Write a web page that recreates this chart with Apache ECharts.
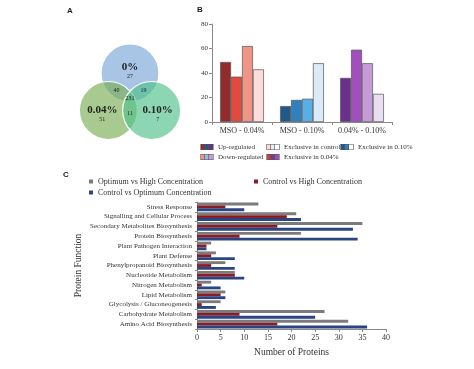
<!DOCTYPE html>
<html><head><meta charset="utf-8">
<script src="https://cdn.jsdelivr.net/npm/echarts@6/dist/echarts.min.js"></script>
<style>html,body{margin:0;padding:0;background:#fff}#c{width:474px;height:369px}</style>
</head><body><div id="c"></div>
<script>
// ---------- Panel A (Venn) ----------
const vennSets = ['0%', '0.04%', '0.10%'];
const vennUnique = [27, 51, 7];          // only 0%, only 0.04%, only 0.10%
const vennPairs = [40, 19, 11];          // 0%&0.04%, 0%&0.10%, 0.04%&0.10%
const vennAll = 231;

// ---------- Panel B ----------
const bCategories = ['MSO - 0.04%', 'MSO - 0.10%', '0.04% - 0.10%'];
const bNames = ['Up-regulated', 'Exclusive in 0.04%', 'Down-regulated', 'Exclusive in control'];
const bBar1 = [49, 13, 36];
const bBar2 = [37, 18, 59];
const bBar3 = [62, 19, 48];
const bBar4 = [43, 48, 23];
const bLegendExtra = 'Exclusive in 0.10%';

// ---------- Panel C ----------
const cCategories = ['Amino Acid Biosynthesis', 'Carbohydrate Metabolism', 'Glycolysis / Gluconeogenesis',
  'Lipid Metabolism', 'Nitrogen Metabolism', 'Nucleotide Metabolism', 'Phenylpropanoid Biosynthesis',
  'Plant Defense', 'Plant Pathogen Interaction', 'Protein Biosynthesis',
  'Secondary Metabolites Biosynthesis', 'Signalling and Cellular Process', 'Stress Response'];
const cOptimumHigh    = [32, 27, 5, 6, 3, 8, 6, 4, 3, 22, 35, 21, 13];
const cControlHigh    = [17, 9, 1, 5, 1, 8, 3, 3, 2, 9, 17, 19, 6];
const cControlOptimum = [36, 25, 4, 6, 5, 10, 8, 8, 2, 34, 33, 22, 10];

// ---------- styles ----------
const serif = '"Liberation Serif","Times New Roman",serif';
const bColors = [ // per bar position, per group
  ['#922b2b', '#1f5a8a', '#6b2f8c'],
  ['#e3493d', '#2e80c0', '#a24fbd'],
  ['#f19488', '#5aaee6', '#c79bd9'],
  ['#fbdcda', '#dbeaf8', '#e9def2']
];
const swatches = {
  'Up-regulated': ['#922b2b', '#1f5a8a', '#6b2f8c'],
  'Down-regulated': ['#f19488', '#8cc0ea', '#c79bd9'],
  'Exclusive in control': ['#fbdcda', '#e6f0fa', '#ffffff'],
  'Exclusive in 0.04%': ['#c9403a', '#7a3d8a', '#a24fbd'],
  'Exclusive in 0.10%': ['#1f5a8a', '#2e80c0', '#ffffff']
};
const rich = { g: { width: 5 } };
const nameKeys = {};
Object.keys(swatches).forEach((n, i) => {
  nameKeys[n] = swatches[n].map((c, j) => {
    const k = 's' + i + '_' + j;
    rich[k] = { width: 4, height: 5, backgroundColor: c, borderColor: '#555', borderWidth: 0.6 };
    return k;
  });
});
const bFormatter = n => nameKeys[n].map(k => '{' + k + '| }').join('') + '{g| }' + n;

const bSeries = [bBar1, bBar2, bBar3, bBar4].map((arr, si) => ({
  type: 'bar', name: bNames[si], xAxisIndex: 0, yAxisIndex: 0,
  barGap: '0%', barCategoryGap: '27%',
  data: arr.map((v, gi) => ({ value: v, itemStyle: { color: bColors[si][gi] } })),
  itemStyle: { borderColor: '#555', borderWidth: 0.7 }
}));
bSeries.push({ type: 'line', name: bLegendExtra, xAxisIndex: 0, yAxisIndex: 0, data: [] });

const cColors = { 'Optimum vs High Concentration': '#7b7b7b', 'Control vs High Concentration': '#8b1c26', 'Control vs Optimum Concentration': '#2b4583' };
const cData = { 'Optimum vs High Concentration': cOptimumHigh, 'Control vs High Concentration': cControlHigh, 'Control vs Optimum Concentration': cControlOptimum };
const cOrder = ['Optimum vs High Concentration', 'Control vs High Concentration', 'Control vs Optimum Concentration'];
const cSeries = cOrder.map(n => ({
  type: 'bar', name: n, xAxisIndex: 1, yAxisIndex: 1,
  barGap: '0%', barCategoryGap: '12%',
  itemStyle: { color: cColors[n] }, data: cData[n]
}));

// ---------- Venn layout (computed) ----------
const vc = [130, 98], vd = 25, vr = 29;
const vAngles = [-90, 150, 30];
const vCenters = vAngles.map(a => [vc[0] + vd * Math.cos(a * Math.PI / 180), vc[1] + vd * Math.sin(a * Math.PI / 180)]);
const vFills = ['rgba(122,166,216,0.65)', 'rgba(122,173,85,0.65)', 'rgba(80,192,138,0.65)'];
const graphics = [];
vCenters.forEach((c, i) => graphics.push({
  type: 'circle', shape: { cx: c[0], cy: c[1], r: vr },
  style: { fill: vFills[i], stroke: '#ffffff', lineWidth: 1.2 }, z: 1
}));
function txt(s, x, y, font) {
  return { type: 'text', z: 5, style: { text: String(s), x: x, y: y, font: font, fill: '#222', textAlign: 'center', textVerticalAlign: 'middle' } };
}
vCenters.forEach((c, i) => {
  const ux = (c[0] - vc[0]) / vd, uy = (c[1] - vc[1]) / vd;
  const px = c[0] + 7 * ux, py = c[1] + 6 * Math.min(uy, 0);
  graphics.push(txt(vennSets[i], px, py, 'bold 11px ' + serif));
  graphics.push(txt(vennUnique[i], px, py + 9, '6px ' + serif));
});
[[0, 1], [0, 2], [1, 2]].forEach((p, i) => {
  const a = vCenters[p[0]], b = vCenters[p[1]];
  const mx = (a[0] + b[0]) / 2, my = (a[1] + b[1]) / 2;
  const dx = mx - vc[0], dy = my - vc[1], dl = Math.hypot(dx, dy);
  graphics.push(txt(vennPairs[i], mx + 3 * dx / dl, my + 3 * dy / dl, '6px ' + serif));
});
graphics.push(txt(vennAll, vc[0], vc[1], '6px ' + serif));
graphics.push(txt('A', 70, 11, 'bold 8px "Liberation Sans",Arial,sans-serif'));
graphics.push(txt('B', 200, 10, 'bold 8px "Liberation Sans",Arial,sans-serif'));
graphics.push(txt('C', 66, 175, 'bold 8px "Liberation Sans",Arial,sans-serif'));

const axisLine = { show: true, lineStyle: { color: '#8a8a8a', width: 1 } };
const bLegendBase = {
  orient: 'vertical', padding: 0, itemWidth: 0, itemHeight: 0, itemGap: 2, icon: 'rect',
  selectedMode: false, formatter: bFormatter,
  textStyle: { fontFamily: serif, fontSize: 7, color: '#333', lineHeight: 8, rich: rich }
};
const cLegendBase = {
  orient: 'vertical', padding: 0, itemWidth: 4, itemHeight: 4, itemGap: 2, icon: 'rect', selectedMode: false,
  textStyle: { fontFamily: serif, fontSize: 8, color: '#333', lineHeight: 9 }
};
const option = {
  animation: false,
  backgroundColor: '#ffffff',
  graphic: graphics,
  legend: [
    Object.assign({}, bLegendBase, { data: ['Up-regulated', 'Down-regulated'], left: 195, top: 143 }),
    Object.assign({}, bLegendBase, { data: ['Exclusive in control', 'Exclusive in 0.04%'], left: 261, top: 143 }),
    Object.assign({}, bLegendBase, { data: [bLegendExtra], left: 336, top: 143 }),
    Object.assign({}, cLegendBase, { data: ['Optimum vs High Concentration', 'Control vs Optimum Concentration'], left: 89, top: 177 }),
    Object.assign({}, cLegendBase, { data: ['Control vs High Concentration'], left: 254, top: 177 })
  ],
  grid: [
    { left: 212, top: 24, right: 82, bottom: 247 },
    { left: 197, top: 202, right: 88, bottom: 40 }
  ],
  xAxis: [
    { type: 'category', gridIndex: 0, data: bCategories, axisLine: axisLine,
      axisTick: { show: true, length: 3, lineStyle: { color: '#8a8a8a' } },
      axisLabel: { fontFamily: serif, fontSize: 8, color: '#333', margin: 5, interval: 0 } },
    { type: 'value', gridIndex: 1, min: 0, max: 40, interval: 5, axisLine: axisLine,
      axisTick: { show: true, length: 3, lineStyle: { color: '#8a8a8a' } }, splitLine: { show: false },
      axisLabel: { fontFamily: serif, fontSize: 8, color: '#333', margin: 5 },
      name: 'Number of Proteins', nameLocation: 'middle', nameGap: 18,
      nameTextStyle: { fontFamily: serif, fontSize: 9.5, color: '#333' } }
  ],
  yAxis: [
    { type: 'value', gridIndex: 0, min: 0, max: 80, interval: 20, axisLine: axisLine,
      axisTick: { show: true, length: 3, lineStyle: { color: '#8a8a8a' } }, splitLine: { show: false },
      axisLabel: { fontFamily: serif, fontSize: 7, color: '#333', margin: 4 } },
    { type: 'category', gridIndex: 1, data: cCategories, axisLine: axisLine,
      axisTick: { show: true, length: 2, lineStyle: { color: '#8a8a8a' } },
      axisLabel: { fontFamily: serif, fontSize: 7, color: '#333', margin: 5, interval: 0 },
      name: 'Protein Function', nameLocation: 'middle', nameRotate: 90, nameGap: 114,
      nameTextStyle: { fontFamily: serif, fontSize: 9.5, color: '#333' } }
  ],
  series: bSeries.concat(cSeries)
};
echarts.init(document.getElementById('c'), null, { renderer: 'canvas' }).setOption(option);
</script></body></html>
